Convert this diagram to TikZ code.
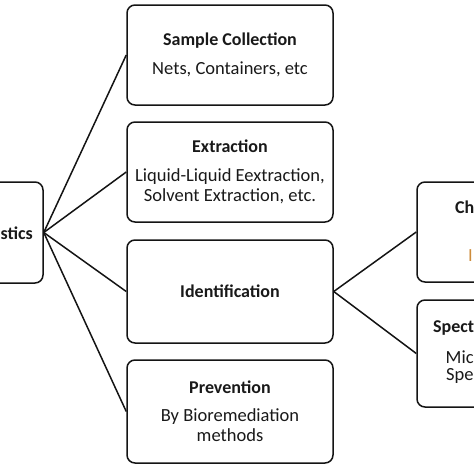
\documentclass[tikz,border=0pt]{standalone}
\usepackage{fontspec}
\setmainfont{Carlito}
\definecolor{lineclr}{RGB}{20,20,20}
\definecolor{txtclr}{RGB}{25,25,25}
\definecolor{orangetxt}{RGB}{205,140,60}
\begin{document}
\begin{tikzpicture}[x=1pt,y=-1pt,
  box/.style={draw=lineclr, line width=1.5pt, rounded corners=8pt, inner sep=0pt, align=center,
    text=txtclr, font=\fontsize{18.5}{20}\selectfont},
  link/.style={draw=lineclr, line width=1.5pt},
  lbl/.style={inner sep=0pt, anchor=west, text=txtclr, font=\fontsize{18.5}{20}\selectfont},
  ttl/.style={inner sep=0pt, text=txtclr, font=\bfseries\fontsize{18}{20}\selectfont}]
\useasboundingbox (0,0) rectangle (474,474);
\clip (0,0) rectangle (474,474);

% left root box (cut at the left edge)
\node[box, minimum width=73, minimum height=101] (root) at (6.5,232.5) {};
\node[ttl, anchor=east] (roottxt) at (33,233) {stics};

% middle column
\node[box, minimum width=206, minimum height=100] (sc) at (230,55)
  {\textbf{\fontsize{18}{20}\selectfont Sample Collection}\\[9pt]Nets, Containers, etc};
\node[box, minimum width=206, minimum height=100] (ex) at (230,172)
  {\textbf{\fontsize{18}{20}\selectfont Extraction}\\[9pt]Liquid-Liquid Eextraction,\\Solvent Extraction, etc.};
\node[box, minimum width=206, minimum height=103] (id) at (230,291.5)
  {\textbf{\fontsize{18}{20}\selectfont Identification}};
\node[box, minimum width=206, minimum height=103] (pv) at (230,411.5)
  {\textbf{\fontsize{18}{20}\selectfont Prevention}\\[8pt]By Bioremediation\\methods};

% right column (cut at the right edge)
\node[box, minimum width=113, minimum height=100] (ch) at (473.5,232) {};
\node[ttl, anchor=west] (chtxt) at (455,207) {Ch};
\node[lbl, text=orangetxt] (chsub) at (468,256) {I};

\node[box, minimum width=113, minimum height=107] (sp) at (473.5,353.5) {};
\node[ttl, anchor=west] (sptxt) at (433,328) {Spect};
\node[lbl] (spsub1) at (445.5,357) {Mic};
\node[lbl] (spsub2) at (446,376) {Spe};

% connectors
\draw[link] (root.east) -- (sc.west);
\draw[link] (root.east) -- (ex.west);
\draw[link] (root.east) -- (id.west);
\draw[link] (root.east) -- (pv.west);
\draw[link] (id.east) -- (ch.west);
\draw[link] (id.east) -- (sp.west);
\end{tikzpicture}
\end{document}
